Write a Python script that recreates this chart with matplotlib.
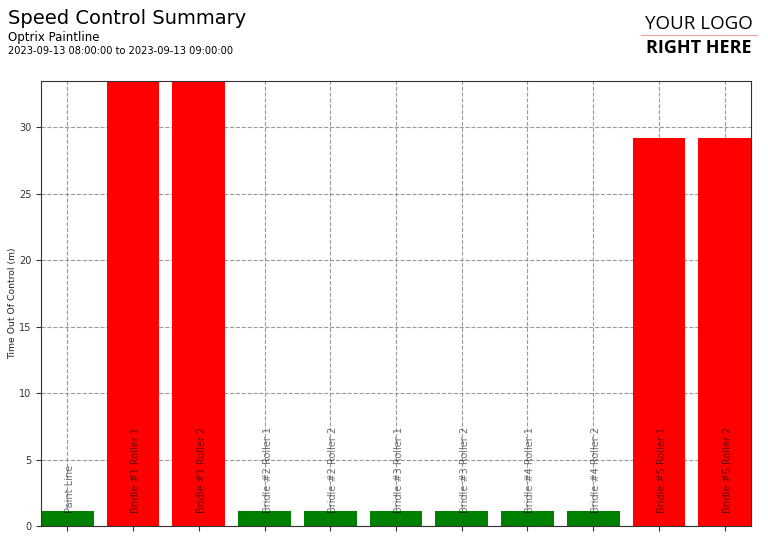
import matplotlib
matplotlib.use('Agg')
import matplotlib.pyplot as plt
import matplotlib.transforms as mtransforms
from matplotlib.lines import Line2D

# data
labels = ['Paint Line', 'Bridle #1 Roller 1', 'Bridle #1 Roller 2',
          'Bridle #2 Roller 1', 'Bridle #2 Roller 2', 'Bridle #3 Roller 1',
          'Bridle #3 Roller 2', 'Bridle #4 Roller 1', 'Bridle #4 Roller 2',
          'Bridle #5 Roller 1', 'Bridle #5 Roller 2']
minutes = [1.1, 33.6, 33.6, 1.1, 1.1, 1.1, 1.1, 1.1, 1.1, 29.2, 29.2]
limit = 5

fig = plt.figure(figsize=(7.68, 5.39), dpi=100)
ax = fig.add_axes([41 / 768, 1 - 526 / 539, 710 / 768, 445 / 539])

colors = ['red' if v > limit else 'green' for v in minutes]
x = list(range(len(labels)))
ax.bar(x, minutes, width=0.8, color=colors, zorder=2)

# labels sit slightly right of the bar centre, as in the original
shift = mtransforms.offset_copy(ax.transData, fig=fig, x=3, y=0, units='dots')
for xi, lab in zip(x, labels):
    ax.text(xi, 1.0, lab, rotation=90, ha='center', va='bottom',
            fontsize=7, color='black', alpha=0.55, zorder=3, transform=shift)

ax.set_xlim(-0.4, len(labels) - 0.6)
ax.set_ylim(0, 33.5)
ax.set_xticks(x)
ax.set_xticklabels([])
ax.tick_params(labelsize=7, colors='#333333')
for s in ax.spines.values():
    s.set_color('#333333')
ax.set_ylabel('Time Out Of Control (m)', fontsize=6.7, color='#222222', labelpad=1)
ax.grid(True, linestyle='--', color='gray', alpha=0.8, linewidth=0.8, zorder=0)
ax.set_axisbelow(True)

# header
fig.text(8 / 768, 1 - 18 / 539, 'Speed Control Summary', fontsize=14, va='center')
fig.text(8 / 768, 1 - 38 / 539, 'Optrix Paintline', fontsize=8.5, va='center')
fig.text(8 / 768, 1 - 51 / 539, '2023-09-13 08:00:00 to 2023-09-13 09:00:00',
         fontsize=7.1, va='center')

# logo
fig.text(699 / 768, 1 - 24 / 539, 'YOUR LOGO', fontsize=13.5, ha='center',
         va='center', family='Open Sans')
fig.add_artist(Line2D([641 / 768, 757 / 768], [1 - 35 / 539, 1 - 35 / 539],
                      color='#f0a0a0', linewidth=0.8, transform=fig.transFigure))
fig.text(699 / 768, 1 - 48 / 539, 'RIGHT HERE', fontsize=13, ha='center',
         va='center', fontweight='bold', family='Open Sans', stretch='condensed')

fig.savefig('out.png', dpi=100)
